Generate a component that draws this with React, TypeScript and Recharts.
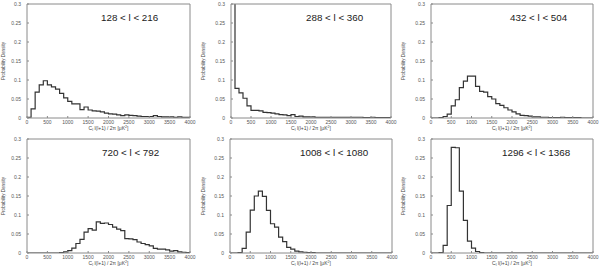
import React from 'react';
import { LineChart, Line, XAxis, YAxis } from 'recharts';

const binEdges = [
  0, 100, 200, 300, 400, 500, 600, 700, 800, 900, 1000, 1100, 1200, 1300, 1400, 1500, 1600, 1700, 1800, 1900,
  2000, 2100, 2200, 2300, 2400, 2500, 2600, 2700, 2800, 2900, 3000, 3100, 3200, 3300, 3400, 3500, 3600, 3700,
  3800, 3900, 4000,
];
const xTicks = [0, 500, 1000, 1500, 2000, 2500, 3000, 3500, 4000];
const yTicks = [0, 0.05, 0.1, 0.15, 0.2, 0.25, 0.3];

const panelTitles = [
  '128 < l < 216',
  '288 < l < 360',
  '432 < l < 504',
  '720 < l < 792',
  '1008 < l < 1080',
  '1296 < l < 1368',
];

const density128 = [
  0.002, 0.024, 0.068, 0.087, 0.098, 0.087, 0.082, 0.076, 0.065, 0.053, 0.044, 0.037, 0.037, 0.022, 0.029, 0.021,
  0.019, 0.018, 0.016, 0.013, 0.011, 0.01, 0.008, 0.006, 0.008, 0.007, 0.006, 0.005, 0.004, 0.004, 0.004, 0.006,
  0.004, 0.003, 0.003, 0.003, 0.002, 0.003, 0.002, 0.002,
];
const density288 = [
  0.6, 0.078, 0.066, 0.052, 0.032, 0.02, 0.02, 0.019, 0.015, 0.014, 0.013, 0.011, 0.009, 0.008, 0.006, 0.009,
  0.004, 0.005, 0.003, 0.003, 0.003, 0.002, 0.002, 0.002, 0.002, 0.002, 0.002, 0.002, 0.002, 0.002, 0.002, 0.002,
  0.002, 0.001, 0.001, 0.002, 0.001, 0.001, 0.001, 0.001,
];
const density432 = [
  0, 0, 0.001, 0.004, 0.01, 0.032, 0.048, 0.08, 0.097, 0.11, 0.11, 0.083, 0.07, 0.068, 0.056, 0.05, 0.038, 0.033,
  0.027, 0.021, 0.016, 0.011, 0.007, 0.006, 0.005, 0.003, 0.003, 0.002, 0.002, 0.001, 0.001, 0.001, 0.002, 0.001,
  0.001, 0.001, 0.001, 0, 0, 0,
];
const density720 = [
  0, 0, 0, 0, 0, 0, 0, 0, 0.001, 0.003, 0.006, 0.013, 0.025, 0.036, 0.055, 0.064, 0.06, 0.082, 0.078, 0.079, 0.075,
  0.068, 0.063, 0.059, 0.038, 0.037, 0.035, 0.029, 0.025, 0.022, 0.019, 0.012, 0.01, 0.01, 0.008, 0.005, 0.006,
  0.003, 0.002, 0.001,
];
const density1008 = [
  0, 0, 0.001, 0.012, 0.055, 0.113, 0.15, 0.163, 0.149, 0.112, 0.077, 0.068, 0.042, 0.03, 0.015, 0.01, 0.005,
  0.003, 0.002, 0.001, 0.001, 0, 0, 0, 0, 0, 0, 0, 0, 0, 0, 0, 0, 0, 0, 0, 0, 0, 0, 0,
];
const density1296 = [
  0, 0, 0.001, 0.02, 0.125, 0.278, 0.277, 0.163, 0.086, 0.031, 0.013, 0.004, 0.001, 0, 0, 0, 0, 0, 0, 0, 0, 0, 0,
  0, 0, 0, 0, 0, 0, 0, 0, 0, 0, 0, 0, 0, 0, 0, 0, 0,
];

const panelSeries = [density128, density288, density432, density720, density1008, density1296];

const panelLayout = [
  { left: 0, top: 0, axisW: 27, right: 10, titleX: 101 },
  { left: 200, top: 0, axisW: 31, right: 9, titleX: 106 },
  { left: 400, top: 0, axisW: 31, right: 7, titleX: 110 },
  { left: 0, top: 135, axisW: 27, right: 10, titleX: 102 },
  { left: 200, top: 135, axisW: 30, right: 8, titleX: 100 },
  { left: 400, top: 135, axisW: 31, right: 7, titleX: 102 },
];

const FONT = '"Liberation Sans", Arial, Helvetica, sans-serif';
const AXIS = '#8a8a8a';
const TICKTXT = '#555';

function buildRows(values: number[]) {
  return binEdges.map((x, i) => ({ x, v: values[Math.min(i, values.length - 1)] }));
}

function Panel({ idx }: { idx: number }) {
  const lay = panelLayout[idx];
  const data = buildRows(panelSeries[idx]);
  const title = panelTitles[idx];

  const xLabel = (p: any) => {
    const vb = p.viewBox || { x: 0, y: 0, width: 0 };
    return (
      <text
        x={vb.x + vb.width / 2}
        y={vb.y + 11.8}
        textAnchor="middle"
        fontSize={5}
        fill="#444"
        fontFamily={FONT}
      >
        C<tspan fontSize={3.6} dy={1}>l</tspan>
        <tspan dy={-1}> l(l+1) / 2π [μK</tspan>
        <tspan fontSize={3.6} dy={-2}>2</tspan>
        <tspan dy={2}>]</tspan>
      </text>
    );
  };

  const yLabel = (p: any) => {
    const vb = p.viewBox || { x: 0, y: 0, height: 0 };
    const cx = 3.8;
    const cy = vb.y + vb.height / 2;
    return (
      <text
        x={cx}
        y={cy}
        transform={`rotate(-90, ${cx}, ${cy})`}
        textAnchor="middle"
        dominantBaseline="central"
        fontSize={4.6}
        fill="#444"
        fontFamily={FONT}
      >
        Probability Density
      </text>
    );
  };

  const titleLabel = () => (
    <text x={lay.titleX} y={21} fontSize={9.8} fill="#1a1a1a" fontFamily={FONT}>
      {title}
    </text>
  );

  return (
    <div style={{ position: 'absolute', left: lay.left, top: lay.top, width: 200, height: 135 }}>
      <LineChart width={200} height={135} data={data} margin={{ top: 3, right: lay.right - 1, bottom: 0, left: 0 }}>
        <XAxis
          xAxisId="b"
          dataKey="x"
          type="number"
          domain={[0, 4000]}
          ticks={xTicks}
          height={17}
          tickSize={-2}
          tickMargin={4}
          stroke={AXIS}
          tick={{ fontSize: 5, fill: TICKTXT, fontFamily: FONT }}
          interval={0}
          label={xLabel}
        />
        <XAxis
          xAxisId="t"
          orientation="top"
          dataKey="x"
          type="number"
          domain={[0, 4000]}
          ticks={xTicks}
          height={1}
          tickSize={-2}
          stroke={AXIS}
          tick={false}
          interval={0}
          label={titleLabel}
        />
        <YAxis
          yAxisId="l"
          type="number"
          domain={[0, 0.3]}
          ticks={yTicks}
          allowDataOverflow
          width={lay.axisW}
          tickSize={-2}
          tickMargin={8}
          stroke={AXIS}
          interval={0}
          tick={{ fontSize: 5, fill: TICKTXT, fontFamily: FONT }}
          tickFormatter={(v: number) => String(Math.round(v * 100) / 100)}
          label={yLabel}
        />
        <YAxis
          yAxisId="r"
          orientation="right"
          type="number"
          domain={[0, 0.3]}
          ticks={yTicks}
          allowDataOverflow
          width={1}
          tickSize={-2}
          stroke={AXIS}
          interval={0}
          tick={false}
        />
        <Line
          xAxisId="t"
          yAxisId="r"
          type="stepAfter"
          dataKey="v"
          stroke="none"
          strokeWidth={0}
          dot={false}
          activeDot={false}
          legendType="none"
          isAnimationActive={false}
        />
        <Line
          xAxisId="b"
          yAxisId="l"
          type="stepAfter"
          dataKey="v"
          stroke="#333"
          strokeWidth={1.2}
          dot={false}
          activeDot={false}
          isAnimationActive={false}
        />
      </LineChart>
    </div>
  );
}

export default function App() {
  return (
    <div style={{ position: 'absolute', left: 0, top: 0, width: 600, height: 271, background: '#fff' }}>
      {panelLayout.map((_, i) => (
        <Panel key={i} idx={i} />
      ))}
    </div>
  );
}
